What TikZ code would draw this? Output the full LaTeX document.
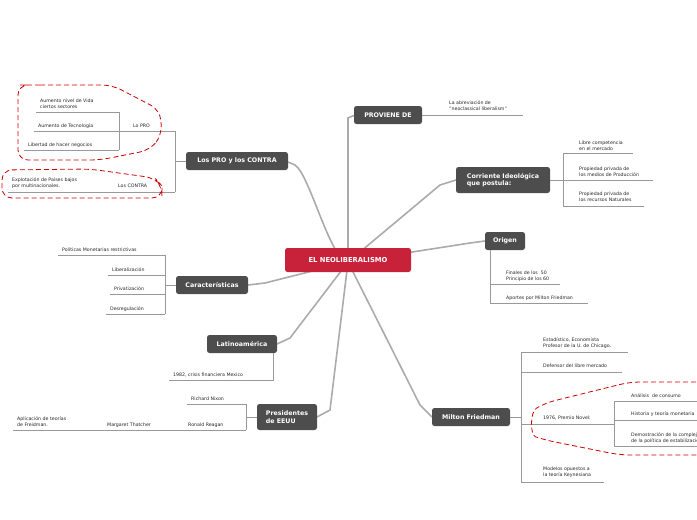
\documentclass[tikz,border=0pt]{standalone}
\usepackage{fontspec}
\setmainfont{DejaVu Sans}
\definecolor{rootred}{HTML}{C8213A}
\definecolor{nodegray}{HTML}{4D4D4D}
\begin{document}
\begin{tikzpicture}[x=1pt,y=-1pt,
  main/.style={fill=nodegray,text=white,rounded corners=2.5pt,font=\fontsize{6.3}{7.5}\selectfont\bfseries,inner sep=0pt,align=left},
  root/.style={fill=rootred,text=white,rounded corners=2.5pt,font=\fontsize{6.8}{8}\selectfont\bfseries,inner sep=0pt},
  tx/.style={font=\fontsize{4.7}{6}\selectfont,inner sep=0pt,anchor=west,align=left,text=black!85},
  br/.style={draw=black!40,line width=0.9pt},
  con/.style={draw=black!33,line width=1.6pt},
  dsh/.style={draw=red!80!black,dashed,dash pattern=on 5pt off 3pt,line width=0.8pt,rounded corners=10pt}]
\useasboundingbox (0,0) rectangle (697,520);
\clip (0,0) rectangle (697,520);
\coordinate (c) at (348,262);
% connectors
\draw[con] (c) -- (348,118) -- (355,115);
\draw[con] (c) .. controls (330,260) and (310,175) .. (295,165) -- (288,162);
\draw[con] (c) -- (440,185) -- (456,180);
\draw[con] (c) -- (470,243) -- (485,241);
\draw[con] (c) -- (265,283) -- (248,285);
\draw[con] (c) -- (290,338) -- (277,344);
\draw[con] (c) -- (330,410) -- (317,417);
\draw[con] (c) -- (420,405) -- (432,417);
% nodes
\node[root,minimum width=126pt,minimum height=24pt] (root) at (348,260) {EL NEOLIBERALISMO};
\node[main,minimum width=68pt,minimum height=18pt,align=center] (prov) at (388,115) {PROVIENE DE};
\node[main,minimum width=102pt,minimum height=18pt,align=center] (pro) at (237,161) {Los PRO y los CONTRA};
\node[main,minimum width=94pt,minimum height=26pt] (corr) at (503,180) {Corriente Ideológica\\que postula:};
\node[main,minimum width=40pt,minimum height=18pt,align=center] (orig) at (505,241) {Origen};
\node[main,minimum width=72pt,minimum height=18pt,align=center] (car) at (212,285) {Características};
\node[main,minimum width=70pt,minimum height=18pt,align=center] (lat) at (242,344) {Latinoamérica};
\node[main,minimum width=60pt,minimum height=26pt] (pres) at (287,417) {Presidentes\\de EEUU};
\node[main,minimum width=78pt,minimum height=18pt,align=center] (mil) at (471,417) {Milton Friedman};
% PROVIENE
\draw[br] (prov.east) -- (523,115);
\node[tx] (p1) at (449,106) {La abreviación de\\"neoclassical liberalism"};
% Corriente
\draw[br] (corr.east) -- (563,180);
\draw[br] (563,153) -- (563,206);
\draw[br] (563,153) -- (633,153); \draw[br] (563,180) -- (653,180); \draw[br] (563,206) -- (644,206);
\node[tx] (c1) at (579,145.5) {Libre competencia\\en el mercado};
\node[tx] (c2) at (579,171.5) {Propiedad privada de\\los medios de Producción};
\node[tx] (c3) at (579,197) {Propiedad privada de\\los recursos Naturales};
% Origen
\draw[br] (490,250) -- (490,303);
\draw[br] (490,284) -- (560,284); \draw[br] (490,303) -- (588,303);
\node[tx] (o1) at (506,276.5) {Finales de los\ \ 50\\Principio de los 60};
\node[tx] (o2) at (506,298.5) {Aportes por Milton Friedman};
% Milton
\draw[br] (mil.east) -- (521,417);
\draw[br] (521,352) -- (521,482);
\draw[br] (521,352) -- (628,352); \draw[br] (521,372) -- (622,372);
\draw[br] (521,424) -- (604,424); \draw[br] (521,482) -- (604,482);
\node[tx] (m1) at (543,343.5) {Estadístico, Economista\\Profesor de la U. de Chicago.};
\node[tx] (m2) at (543,366) {Defensor del libre mercado};
\node[tx] (m3) at (543,418) {1976, Premio Novel:};
\node[tx] (m4) at (543,472.5) {Modelos opuestos a\\la teoría Keynesiana};
\draw[br] (604,424) -- (614,424);
\draw[br] (614,401) -- (614,446);
\draw[br] (614,401) -- (700,401); \draw[br] (614,420) -- (700,420); \draw[br] (614,446) -- (700,446);
\node[tx] (n1) at (631,396) {Análisis\ \ de consumo};
\node[tx] (n2) at (631,414) {Historia y teoría monetaria};
\node[tx] (n3) at (631,438.5) {Demostración de la complejidad\\de la política de estabilización};
\draw[dsh] (720,382) -- (630,382) -- (545,403) .. controls (530,412) and (530,435) .. (545,440) -- (620,455) -- (720,455);
% PRO / CONTRA
\draw[br] (pro.west) -- (175,161);
\draw[br] (175,131) -- (175,192);
\draw[br] (175,131) -- (34,131); \draw[br] (175,192) -- (8,192);
\node[tx] (lp) at (133,126) {Lo PRO};
\node[tx] (lc) at (118,186) {Los CONTRA};
\draw[br] (119,112) -- (119,150);
\draw[br] (119,112) -- (36,112); \draw[br] (119,150) -- (24,150);
\node[tx] (a1) at (40,103.5) {Aumento nivel de Vida\\ciertos sectores};
\node[tx] (a2) at (38,126) {Aumento de Tecnología};
\node[tx] (a3) at (28,145) {Libertad de hacer negocios};
\node[tx] (e1) at (12,183.5) {Explotación de Países bajos\\por multinacionales.};
\draw[dsh] (30,85) -- (112,85) -- (160,110) -- (162,135) -- (150,150) -- (100,160) -- (18,160) -- (18,85) -- cycle;
\draw[dsh] (2,170) -- (90,169) -- (155,178) -- (162,186) -- (162,198) -- (2,198) -- cycle;
% Caracteristicas
\draw[br] (car.west) -- (165,285);
\draw[br] (165,255) -- (165,314);
\draw[br] (165,255) -- (58,255); \draw[br] (165,275) -- (108,275);
\draw[br] (165,294) -- (110,294); \draw[br] (165,314) -- (106,314);
\node[tx] (k1) at (62,250) {Políticas Monetarias restrictivas};
\node[tx] (k2) at (112,270) {Liberalización};
\node[tx] (k3) at (114,289) {Privatización};
\node[tx] (k4) at (110,309) {Desregulación};
% Latino
\draw[br] (273,353) -- (273,380) -- (169,380);
\node[tx] (l1) at (173,375) {1982, crisis financiera Mexico};
% Presidentes
\draw[br] (pres.west) -- (246,417);
\draw[br] (246,404) -- (246,430);
\draw[br] (246,404) -- (187,404); \draw[br] (246,430) -- (13,430);
\node[tx] (r1) at (191,399) {Richard Nixon};
\node[tx] (r2) at (188,425) {Ronald Reagan};
\node[tx] (r3) at (107,425) {Margaret Thatcher};
\node[tx] (r4) at (17,421.5) {Aplicación de teorías\\de Freidman.};
\end{tikzpicture}
\end{document}
